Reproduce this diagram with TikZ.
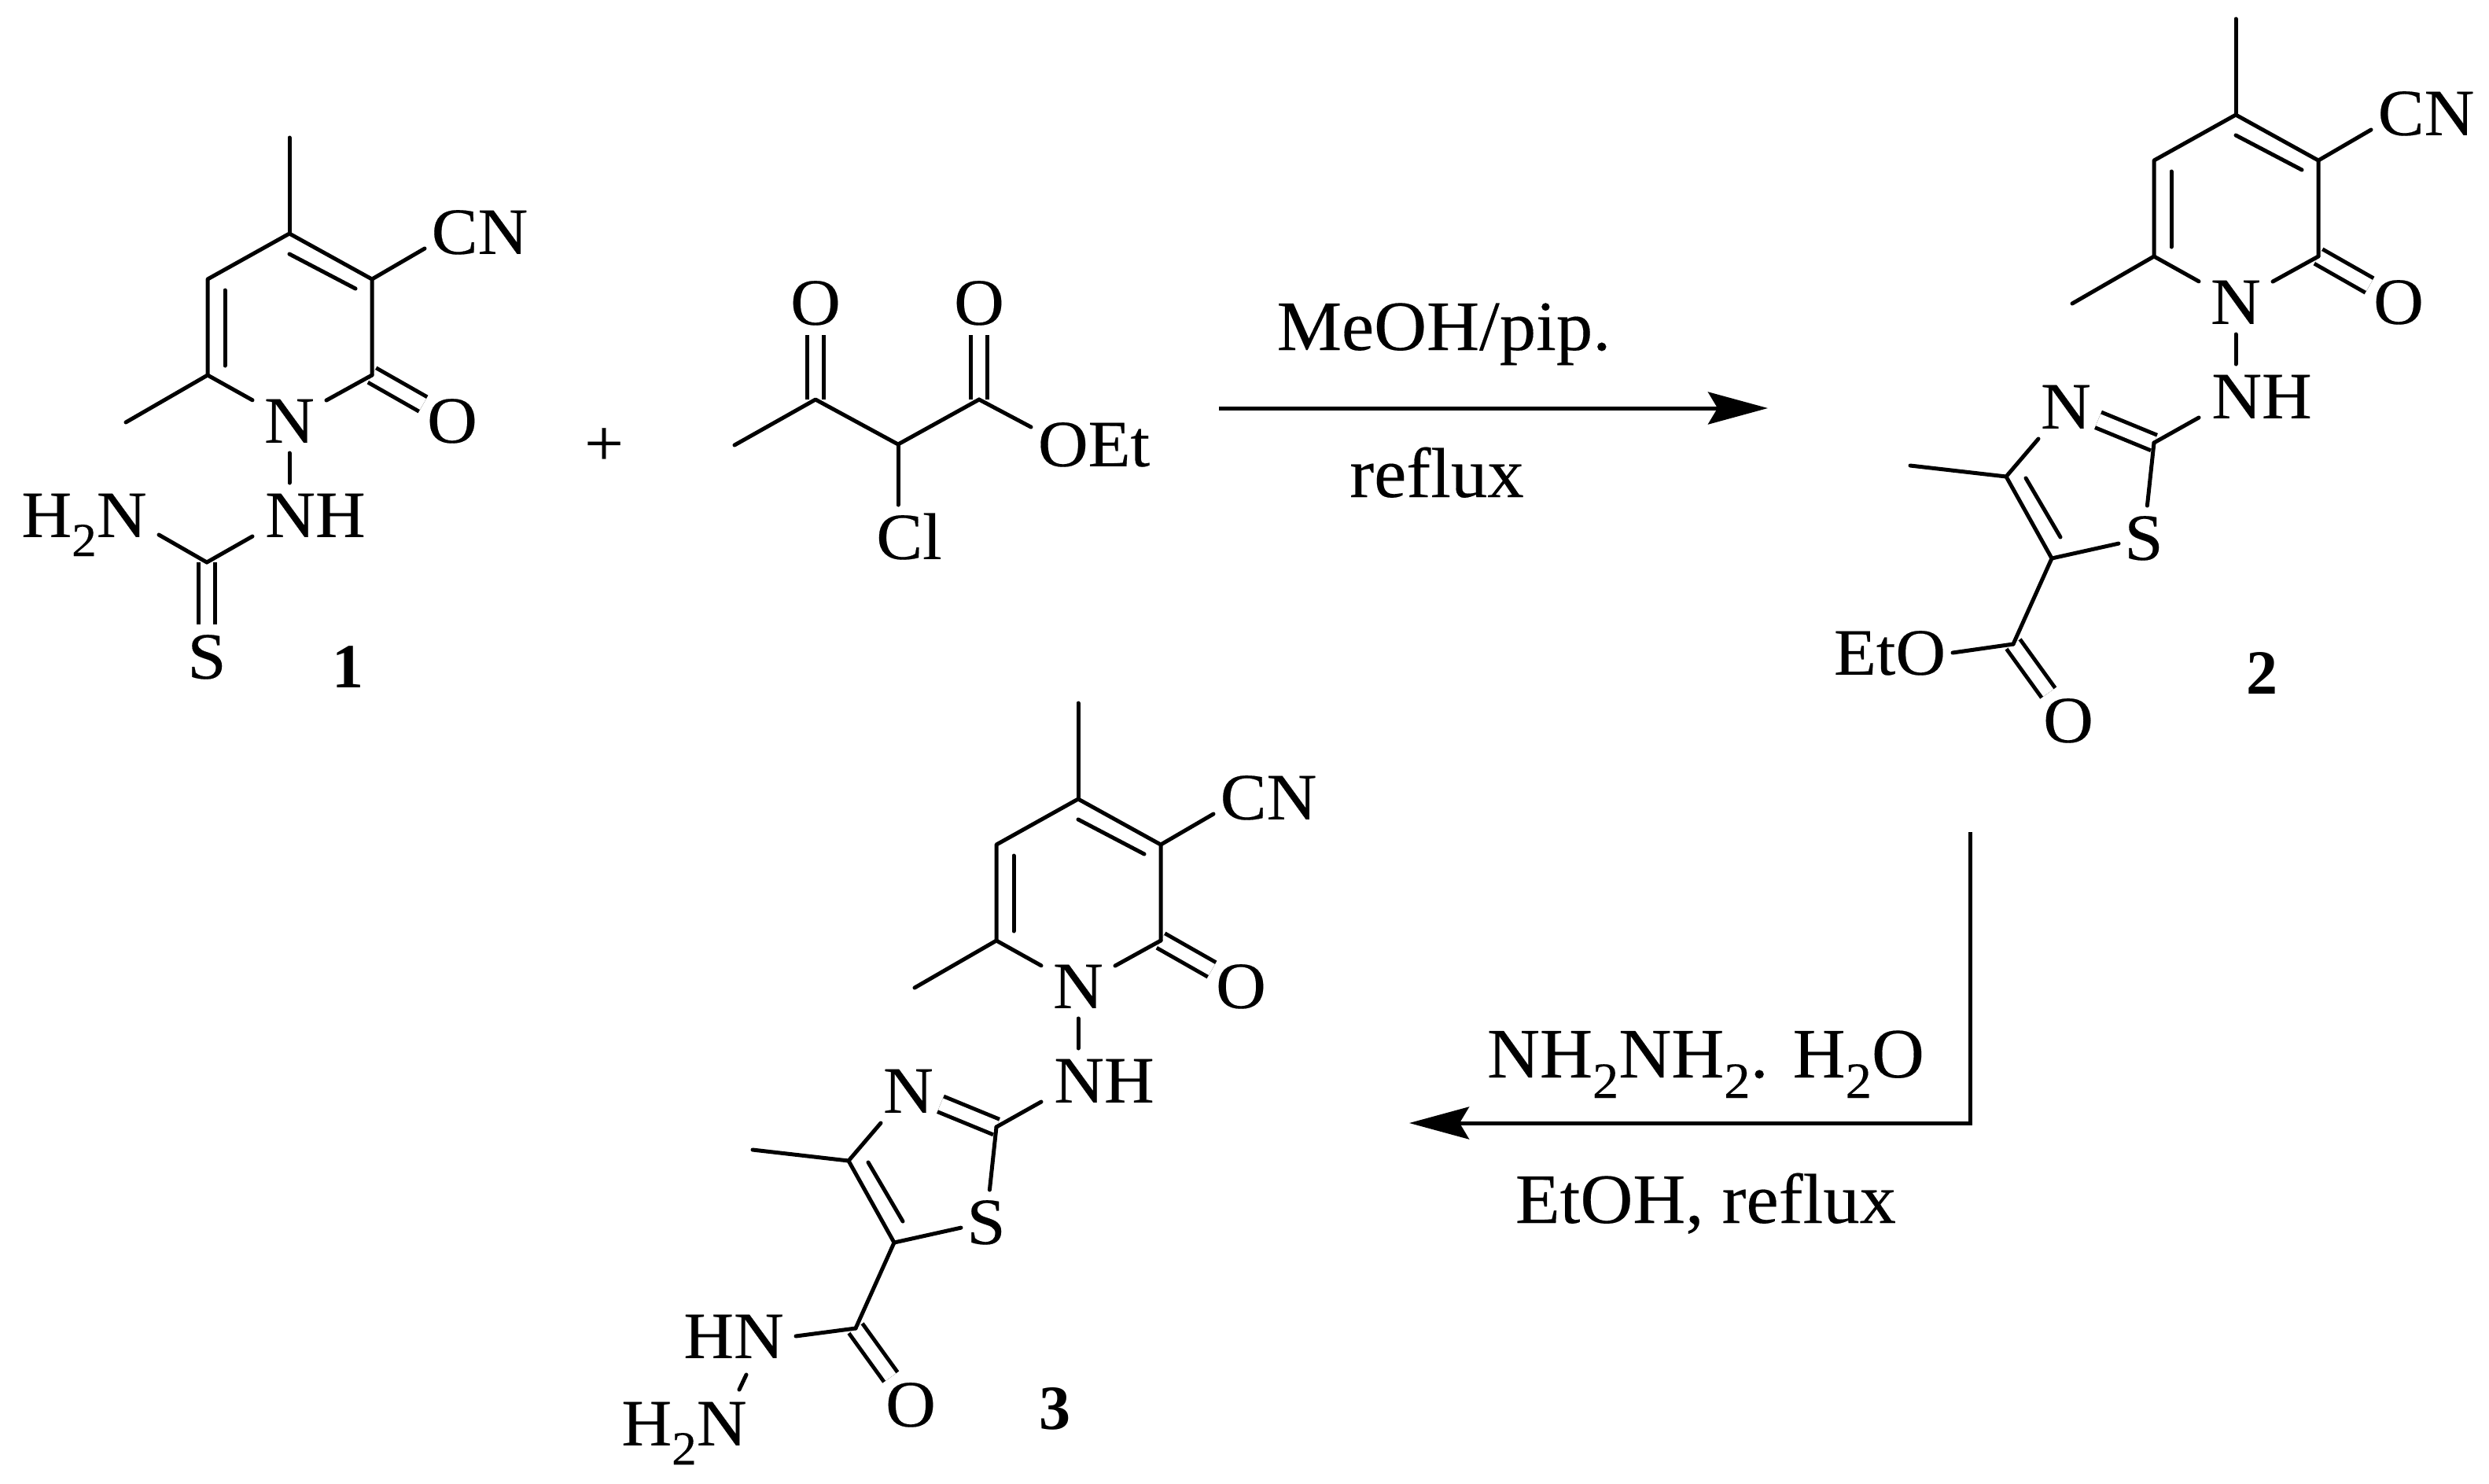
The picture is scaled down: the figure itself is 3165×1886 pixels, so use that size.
\documentclass[tikz,border=0pt]{standalone}
\usepackage{fontspec}
\usepackage{graphicx}
\setmainfont{Liberation Serif}
\newfontfamily\chemfam{Liberation Serif}[FakeStretch=1.05,FakeBold=0.25]
\newfontfamily\rxnfam{Liberation Serif}[FakeStretch=1.03,FakeBold=0.2]
\usetikzlibrary{calc,arrows.meta}
\newcommand{\chemfont}{\fontsize{42}{50}\chemfam\selectfont}
\newcommand{\rxnfont}{\fontsize{45}{54}\rxnfam\selectfont}
\newcommand{\labfont}{\fontsize{40}{48}\selectfont\bfseries}
\newcommand{\subtwo}{\raisebox{-.29em}{\scalebox{.72}{2}}}
\tikzset{
  atom/.style={font=\chemfont,inner sep=0pt,outer sep=0pt,minimum width=47pt,minimum height=41pt,text height=27.8pt,text depth=0pt},
  bond/.style={line width=2.5pt,line cap=round,line join=round},
  dbl/.style={line width=2.5pt,double=white,double distance=8pt,line cap=butt},
  rxn/.style={font=\rxnfont,inner sep=0pt,anchor=base},
  lab/.style={font=\labfont,inner sep=0pt,text height=27pt,text depth=0pt},
  arrowline/.style={line width=2.5pt,line join=miter,-{Stealth[length=38pt,width=20.5pt,inset=6pt]}}
}
% pyridone ring, local origin at the ring nitrogen
\newcommand{\pyridone}{%
  \coordinate (c6) at (-104,-58);
  \coordinate (c5) at (-104,-180);
  \coordinate (c4) at (0,-238);
  \coordinate (c3) at (105,-180);
  \coordinate (c2) at (105,-58);
  \coordinate (me6) at (-208,2);
  \coordinate (me4) at (0,-360);
  \coordinate (in1) at (-82,-166);
  \coordinate (in2) at (-82,-70);
  \coordinate (in3) at (0,-212);
  \coordinate (in4) at (84,-168);
  \node[atom] (n) at (0,0) {N};
  \node[atom,minimum width=37pt] (o) at (207,0) {O};
  \node[atom,minimum width=70pt] (cn) at (242,-240) {CN};
  \node[atom,minimum width=80pt] (nh) at (33,120) {NH};
  \draw[dbl] (c2) -- (o);
  \draw[bond] (c2) -- (c3) -- (c4) -- (c5) -- (c6) -- (n);
  \draw[bond] (c2) -- (n);
  \draw[bond] (c6) -- (me6);
  \draw[bond] (c4) -- (me4);
  \draw[bond] (in1) -- (in2);
  \draw[bond] (in3) -- (in4);
  \draw[bond] (c3) -- ($(cn.west)+(0,21)$);
  \draw[bond] (n.south) -- (nh.north -| n);
}
% thiazole with carbonyl carbon, same local origin
\newcommand{\thiazole}{%
  \coordinate (t2) at (-104,179);
  \coordinate (t4) at (-292,222);
  \coordinate (t5) at (-234,326);
  \coordinate (tme) at (-414,208);
  \coordinate (carb) at (-283,435);
  \coordinate (in5) at (-267,224);
  \coordinate (in6) at (-223,299);
  \node[atom,minimum width=41pt] (tn) at (-216,133) {N};
  \node[atom,minimum width=32pt] (ts) at (-117,300) {S};
  \node[atom,minimum height=35pt] (co) at (-213,532) {O};
  \draw[dbl] (t2) -- (tn);
  \draw[dbl] (carb) -- (co);
  \draw[bond] (tn) -- (t4) -- (t5) -- (ts);
  \draw[bond] (ts) -- (t2);
  \draw[bond] (t4) -- (tme);
  \draw[bond] (in5) -- (in6);
  \draw[bond] (t5) -- (carb);
  \draw[bond] (t2) -- ($(nh.west)+(0,27)$);
}
\begin{document}
\begin{tikzpicture}[x=.5pt,y=-.5pt]
\useasboundingbox (0,0) rectangle (3165,1886);
\fill[white] (0,0) rectangle (3165,1886);

% compound 1
\begin{scope}[shift={(368,535)},name prefix=a-]
  \pyridone
  \coordinate (thio) at (-105,180);
  \node[atom] (s) at (-105,300) {S};
  \node[atom,minimum width=95pt] (h2n) at (-261,120) {H\subtwo N};
  \draw[dbl] (thio) -- (s);
  \draw[bond] (thio) -- ($(nh.west)+(0,27)$);
  \draw[bond] (thio) -- ($(h2n.east)+(0,25)$);
\end{scope}
\node[lab] (lab1) at (442,847) {1};

\node[font=\chemfont,inner sep=0pt] (plus) at (768,568) {+};

% chloroacetoacetate
\coordinate (me) at (934,566);
\coordinate (ck) at (1037,508);
\coordinate (ch) at (1142,565);
\coordinate (ce) at (1245,508);
\node[atom] (ok) at (1037,385) {O};
\node[atom] (oe) at (1245,385) {O};
\node[atom,minimum width=80pt] (oet) at (1391,565) {OEt};
\node[atom] (cl) at (1156,683) {Cl};
\draw[dbl] (ck) -- (ok);
\draw[dbl] (ce) -- (oe);
\draw[bond] (me) -- (ck) -- (ch) -- (ce);
\draw[bond] (ce) -- ($(oet.west)+(0,-22)$);
\draw[bond] (ch) -- (cl.north -| ch);

% first arrow
\coordinate (a1s) at (1550,519);
\coordinate (a1e) at (2248,519);
\draw[arrowline] (a1s) -- (a1e);
\node[rxn] (r1) at (1836,445) {MeOH/pip.};
\node[rxn] (r2) at (1827,632) {reflux};

% compound 2
\begin{scope}[shift={(2843,384)},name prefix=b-]
  \pyridone
  \thiazole
  \node[atom,minimum width=80pt] (eto) at (-440,446) {EtO};
  \draw[bond] (carb) -- (eto.east);
\end{scope}
\node[lab] (lab2) at (2876,855) {2};

% second arrow
\coordinate (a2s) at (2505,1058);
\coordinate (a2c) at (2505,1428);
\coordinate (a2e) at (1792,1428);
\draw[arrowline] (a2s) -- (a2c) -- (a2e);
\node[rxn] (r3) at (2169,1370) {NH\subtwo NH\subtwo. H\subtwo O};
\node[rxn] (r4) at (2169,1555) {EtOH, reflux};

% compound 3
\begin{scope}[shift={(1371,1254)},name prefix=c-]
  \pyridone
  \thiazole
  \node[atom,minimum width=79pt,minimum height=49pt] (hn) at (-438,445) {HN};
  \node[atom,minimum width=83pt,minimum height=43pt] (h2n) at (-501,556) {H\subtwo N};
  \draw[bond] (carb) -- (hn.east);
  \draw[bond] ($(hn.south)+(16,0)$) -- ($(h2n.north)+(70,0)$);
\end{scope}
\node[lab] (lab3) at (1341,1790) {3};
\end{tikzpicture}
\end{document}
